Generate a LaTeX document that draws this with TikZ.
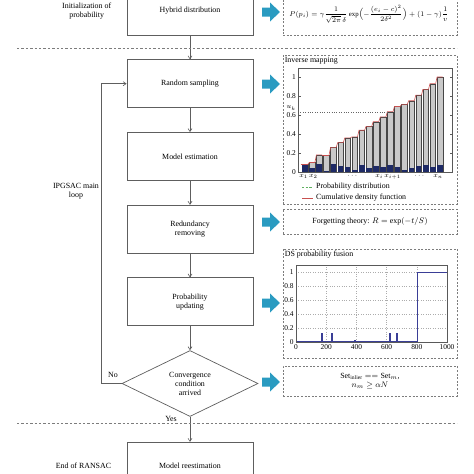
\documentclass[tikz,border=0pt]{standalone}
\usepackage{fontspec}
\setmainfont{Liberation Serif}
\usepackage{amsmath, amssymb}
\usetikzlibrary{positioning, shapes.geometric, arrows.meta, calc}
\definecolor{linegray}{HTML}{5E5E5E}
\definecolor{dashgray}{HTML}{7C7C7C}
\definecolor{pointblue}{HTML}{2A9BC1}
\definecolor{barnavy}{HTML}{1E2A66}
\definecolor{bargray}{HTML}{C9C9C9}
\definecolor{cdfred}{HTML}{C8504F}
\definecolor{pdfgreen}{HTML}{5FB05F}
\definecolor{dsblue}{HTML}{3A3E96}

\begin{document}
\begin{tikzpicture}[x=1pt, y=-1pt,
  font=\fontsize{7.9}{9}\selectfont,
  node distance=24pt,
  box/.style={draw=linegray, line width=0.7pt, minimum width=126pt,
    minimum height=48pt, align=center, inner sep=2pt},
  decision/.style={diamond, aspect=2, draw=linegray, line width=0.7pt,
    minimum width=136pt, minimum height=66pt, inner sep=0pt, align=center},
  flow/.style={draw=linegray, line width=0.6pt,
    -{Straight Barb[length=3pt, width=4pt]}},
  panel/.style={draw=dashgray, line width=0.7pt, dash pattern=on 2pt off 1.6pt,
    minimum width=174pt, inner sep=0pt, align=center},
  separator/.style={draw=dashgray, line width=0.8pt, dash pattern=on 2.4pt off 2pt},
  pointer/.style={fill=pointblue},
  axisframe/.style={draw=gray!70!black, line width=0.4pt},
  gridline/.style={draw=gray!65, line width=0.35pt, dash pattern=on 0.8pt off 1.6pt},
  ticklabel/.style={inner sep=1pt, font=\fontsize{7.4}{8}\selectfont}]

  \useasboundingbox (0,0) rectangle (474,474);
  \clip (0,0) rectangle (474,474);

  % main loop
  \node[box] (hyb) at (190,11) {Hybrid distribution};
  \node[box, below=of hyb] (rs) {Random sampling};
  \node[box, below=of rs] (me) {Model estimation};
  \node[box, below=of me] (rr) {Redundancy\\removing};
  \node[box, below=of rr] (pu) {Probability\\updating};
  \node[decision, below=of pu] (conv) {Convergence\\condition\\arrived};
  \node[box, below=25pt of conv] (mre) {Model reestimation};

  \node[left=12pt of hyb, align=center] (initlab) {Initialization of\\probability};
  \node[align=center] (looplab) at (76,191) {IPGSAC main\\loop};
  \node[left=12pt of mre] (endlab) {End of RANSAC};

  \foreach \a/\b in {hyb/rs, rs/me, me/rr, rr/pu, pu/conv, conv/mre}
    \draw[flow] (\a) -- (\b);

  \coordinate (loopx) at (101,0);
  \draw[flow] (conv.west) -- (conv.west -| loopx) -- (rs.west -| loopx) -- (rs.west);
  \node (nolab) at (113,375) {No};
  \node (yeslab) at (171,419) {Yes};

  \draw[separator] (17,48) -- (457,48);
  \draw[separator] (17,423) -- (457,423);

  % right column
  \node[panel, minimum height=47pt] (formbox) at (370,11.5) {};
  \node[font=\fontsize{6.8}{7}\selectfont, inner sep=0pt] (formula) at (369,14)
    {$\displaystyle P(p_i)=\gamma\frac{1}{\sqrt{2\pi}\,\delta}\exp\Bigl(-\frac{(e_i-c)^2}{2\delta^2}\Bigr)+(1-\gamma)\frac{1}{v}$};
  \node[panel, minimum height=149pt] (invbox) at (370,129.5) {};
  \node[panel, minimum height=25pt] (forgbox) at (370,221.5)
    {Forgetting theory: $R=\exp(-t/S)$};
  \node[panel, minimum height=109pt] (dsbox) at (370,303.5) {};
  \node[panel, minimum height=30pt] (setbox) at (370,381)
    {$\mathrm{Set}_{\mathrm{inlier}}==\mathrm{Set}_m$,\\$n_m\geq\alpha N$};

  \node[anchor=north west, inner sep=1pt] (invtitle) at ([shift={(1,1)}]invbox.north west) {Inverse mapping};
  \node[anchor=north west, inner sep=1pt] (dstitle) at ([shift={(1,1)}]dsbox.north west) {DS probability fusion};

  \foreach \py in {12,84,222,303,382}
    \fill[pointer] (262,\py-4.5) -- (270,\py-4.5) -- (270,\py-9.5) -- (280,\py)
      -- (270,\py+9.5) -- (270,\py+4.5) -- (262,\py+4.5) -- cycle;

  % inverse mapping chart
  \begin{scope}[shift={(298,172)}, x=1pt, y=95pt]
    \foreach \cum/\pr [count=\i, remember=\cum as \prevcum (initially 0.08)] in
      {0.08/0.08, 0.10/0.04, 0.18/0.08, 0.18/0.01, 0.26/0.08, 0.31/0.06, 0.36/0.05,
       0.37/0.02, 0.44/0.07, 0.48/0.04, 0.53/0.06, 0.58/0.05, 0.635/0.07, 0.69/0.05,
       0.71/0.02, 0.75/0.04, 0.81/0.06, 0.87/0.07, 0.93/0.05, 1.00/0.07} {
      \pgfmathsetmacro\cx{7+(\i-1)*7.1}
      \filldraw[fill=bargray, draw=gray!55!black, line width=0.3pt]
        (\cx-2.8,0) rectangle (\cx+2.8,\cum);
      \fill[barnavy] (\cx-2.8,0) rectangle (\cx+2.8,\pr);
      \draw[cdfred, line width=0.6pt] (\cx-4.3,\prevcum) -- (\cx-2.8,\cum) -- (\cx+2.8,\cum);
    }
    \draw[gridline, draw=gray!80!black] (0,0.635) -- (89.4,0.635);
    \draw[axisframe] (0,0) rectangle (154,1.095);
    \foreach \v [count=\k] in {0,0.2,0.4,0.6,0.8,1} {
      \draw[axisframe] (0,\v) -- (2.5,\v) (154,\v) -- (151.5,\v);
      \node[ticklabel, anchor=east] (invy\k) at (-1,\v) {\v};
    }
    \node[ticklabel, anchor=south east] (uklab) at (-1,0.64) {$u_k$};
    \node[ticklabel, anchor=north] (xa) at (10.5,-0.01) {$x_1\,x_2$};
    \node[ticklabel, anchor=north] (xb) at (55,-0.01) {$\cdots$};
    \node[ticklabel, anchor=north] (xc) at (90,-0.01) {$x_i\,x_{i+1}$};
    \node[ticklabel, anchor=north] (xd) at (122,-0.01) {$\cdots$};
    \node[ticklabel, anchor=north] (xe) at (140,-0.01) {$x_n$};
  \end{scope}

  \draw[pdfgreen, line width=0.8pt, dash pattern=on 2.2pt off 1.5pt] (302,187) -- (313,187);
  \node[anchor=west, inner sep=1pt] (pdflab) at (315,187) {Probability distribution};
  \draw[cdfred, line width=0.7pt] (302,198) -- (313,198);
  \node[anchor=west, inner sep=1pt] (cdflab) at (315,198) {Cumulative density function};

  % DS fusion chart
  \begin{scope}[shift={(296,342)}, x=0.151pt, y=70pt]
    \foreach \gx in {200,400,600,800}
      \draw[gridline] (\gx,0) -- (\gx,1.1);
    \foreach \gy in {0.2,0.4,0.6,0.8,1}
      \draw[gridline] (0,\gy) -- (1000,\gy);
    \draw[dsblue, line width=0.7pt] (0,0.01) -- (168,0.01) -- (168,0.12) -- (176,0.12)
      -- (176,0.01) -- (232,0.01) -- (232,0.12) -- (240,0.12) -- (240,0.01)
      -- (386,0.01) -- (386,0.025) -- (392,0.025) -- (392,0.01) -- (618,0.01)
      -- (618,0.12) -- (626,0.12) -- (626,0.01) -- (664,0.01) -- (664,0.12)
      -- (672,0.12) -- (672,0.01) -- (805,0.01) -- (805,1) -- (1000,1);
    \draw[axisframe] (0,0) rectangle (1000,1.1);
    \foreach \v [count=\k] in {0,0.2,0.4,0.6,0.8,1}
      \node[ticklabel, anchor=east] (dsy\k) at (-8,\v) {\v};
    \foreach \t [count=\k] in {0,200,400,600,800,1000}
      \node[ticklabel, anchor=north] (dsx\k) at (\t,-0.02) {\t};
  \end{scope}
\end{tikzpicture}
\end{document}
